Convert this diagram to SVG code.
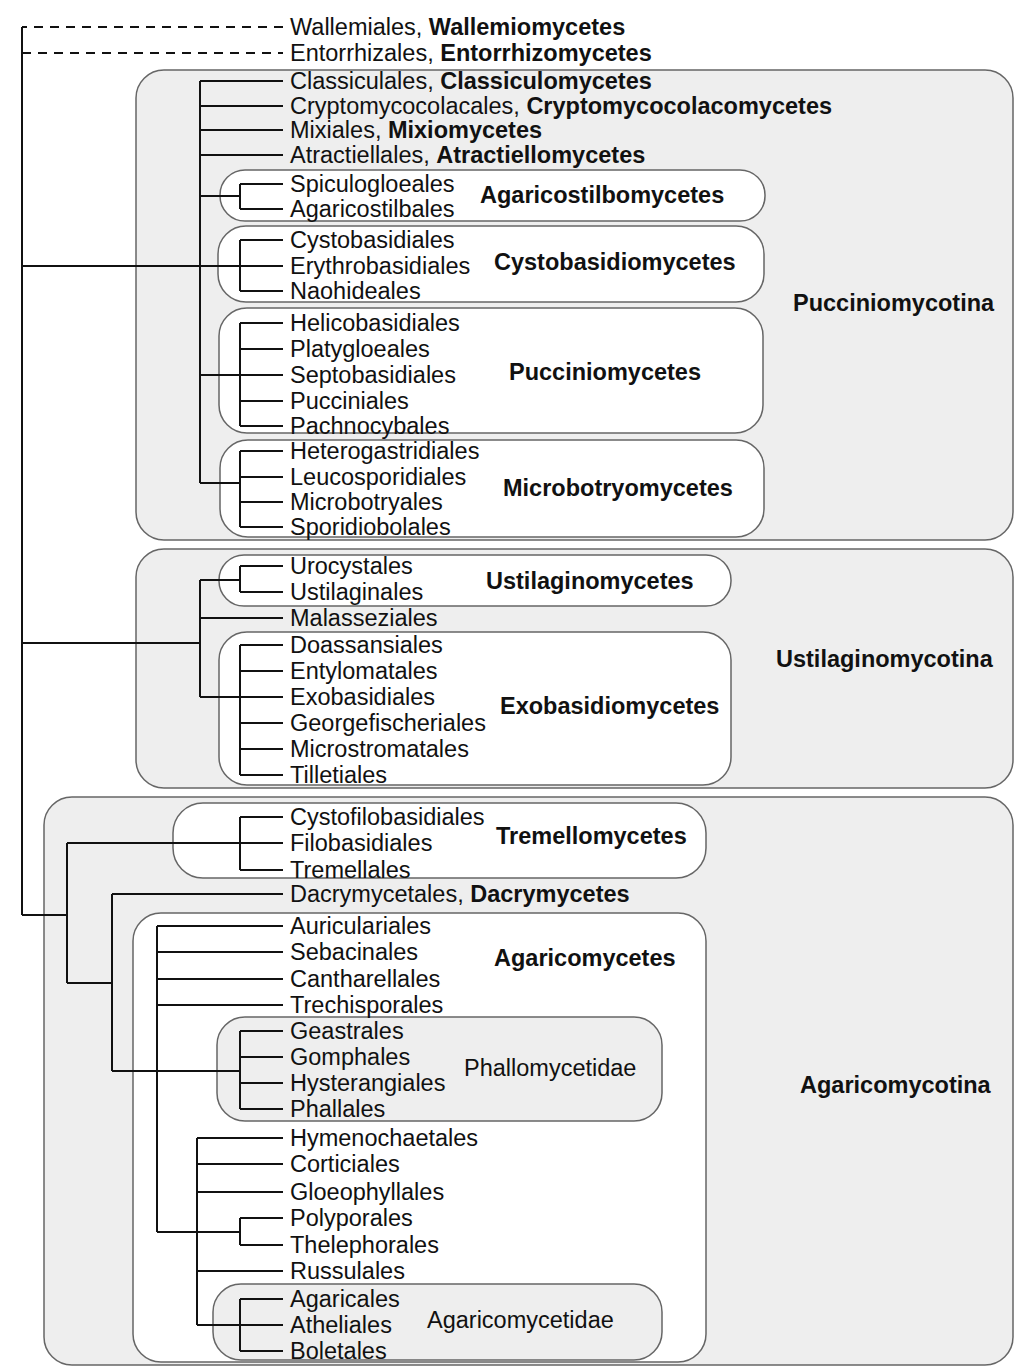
<svg xmlns="http://www.w3.org/2000/svg" width="1033" height="1369" viewBox="0 0 1033 1369">
<style>
text{font-family:"Liberation Sans",Arial,sans-serif;font-size:23.5px;fill:#111}
.b{font-weight:bold}
.g{fill:#eeeeee;stroke:#666;stroke-width:1.5}
.w{fill:#fff;stroke:#666;stroke-width:1.5}
#edges path{fill:none;stroke:#111;stroke-width:2}
</style>
<rect width="1033" height="1369" fill="#fff"/>
<g id="boxes">
<rect id="pucciniomycotina" class="g" x="136" y="70" width="877" height="470" rx="28"/>
<rect id="agaricostilbomycetes" class="w" x="220" y="170" width="545" height="51" rx="25"/>
<rect id="cystobasidiomycetes" class="w" x="218" y="226" width="546" height="76" rx="28"/>
<rect id="pucciniomycetes" class="w" x="219" y="308" width="544" height="125" rx="28"/>
<rect id="microbotryomycetes" class="w" x="220" y="440" width="544" height="97" rx="28"/>
<rect id="ustilaginomycotina" class="g" x="136" y="549" width="877" height="239" rx="28"/>
<rect id="ustilaginomycetes" class="w" x="219" y="555" width="512" height="51" rx="25"/>
<rect id="exobasidiomycetes" class="w" x="219" y="632" width="512" height="153" rx="28"/>
<rect id="agaricomycotina" class="g" x="44" y="797" width="969" height="568" rx="28"/>
<rect id="tremellomycetes" class="w" x="173" y="803" width="533" height="75" rx="30"/>
<rect id="agaricomycetes" class="w" x="133" y="913" width="573" height="449" rx="28"/>
<rect id="phallomycetidae" class="g" x="217" y="1017" width="445" height="104" rx="28"/>
<rect id="agaricomycetidae" class="g" x="213" y="1284" width="449" height="76" rx="28"/>
</g>
<g id="edges">
<path d="M283,27H22M22,53H283" stroke-dasharray="9,7"/>
<path d="M22,27V915"/>
<path d="M200,81V483M200,81H283M200,106H283M200,130H283M200,155H283"/>
<path d="M200,196H240M240,184V209M240,184H283M240,209H283"/>
<path d="M22,266H283M240,240V291M240,240H283M240,291H283"/>
<path d="M200,375H240M240,323V426M240,323H283M240,349H283M240,375H283M240,401H283M240,426H283"/>
<path d="M200,483H240M240,451V527M240,451H283M240,477H283M240,502H283M240,527H283"/>
<path d="M22,643H200M200,580V697M200,580H240M240,566V592M240,566H283M240,592H283M200,618H283"/>
<path d="M200,697H240M240,645V775M240,645H283M240,671H283M240,697H283M240,723H283M240,749H283M240,775H283"/>
<path d="M22,915H67M67,843V983M67,843H283M240,817V870M240,817H283M240,870H283"/>
<path d="M67,983H112M112,894V1071M112,894H283M112,1071H240"/>
<path d="M157,926V1232M157,926H283M157,952H283M157,979H283M157,1005H283"/>
<path d="M240,1031V1109M240,1031H283M240,1057H283M240,1083H283M240,1109H283"/>
<path d="M197,1138V1325M197,1138H283M197,1164H283M197,1192H283M197,1271H283"/>
<path d="M157,1232H240M240,1218V1245M240,1218H283M240,1245H283"/>
<path d="M197,1325H240M240,1299V1351M240,1299H283M240,1325H283M240,1351H283"/>
</g>
<g id="labels">
<text x="290" y="35">Wallemiales, <tspan class="b">Wallemiomycetes</tspan></text>
<text x="290" y="61">Entorrhizales, <tspan class="b">Entorrhizomycetes</tspan></text>
<text x="290" y="89">Classiculales, <tspan class="b">Classiculomycetes</tspan></text>
<text x="290" y="114">Cryptomycocolacales, <tspan class="b">Cryptomycocolacomycetes</tspan></text>
<text x="290" y="138">Mixiales, <tspan class="b">Mixiomycetes</tspan></text>
<text x="290" y="163">Atractiellales, <tspan class="b">Atractiellomycetes</tspan></text>
<text x="290" y="192">Spiculogloeales</text>
<text x="290" y="217">Agaricostilbales</text>
<text class="b" x="480" y="203">Agaricostilbomycetes</text>
<text x="290" y="248">Cystobasidiales</text>
<text x="290" y="274">Erythrobasidiales</text>
<text x="290" y="299">Naohideales</text>
<text class="b" x="494" y="270">Cystobasidiomycetes</text>
<text x="290" y="331">Helicobasidiales</text>
<text x="290" y="357">Platygloeales</text>
<text x="290" y="383">Septobasidiales</text>
<text x="290" y="409">Pucciniales</text>
<text x="290" y="434">Pachnocybales</text>
<text class="b" x="509" y="380">Pucciniomycetes</text>
<text x="290" y="459">Heterogastridiales</text>
<text x="290" y="485">Leucosporidiales</text>
<text x="290" y="510">Microbotryales</text>
<text x="290" y="535">Sporidiobolales</text>
<text class="b" x="503" y="496">Microbotryomycetes</text>
<text class="b" x="793" y="311">Pucciniomycotina</text>
<text x="290" y="574">Urocystales</text>
<text x="290" y="600">Ustilaginales</text>
<text class="b" x="486" y="589">Ustilaginomycetes</text>
<text x="290" y="626">Malasseziales</text>
<text x="290" y="653">Doassansiales</text>
<text x="290" y="679">Entylomatales</text>
<text x="290" y="705">Exobasidiales</text>
<text x="290" y="731">Georgefischeriales</text>
<text x="290" y="757">Microstromatales</text>
<text x="290" y="783">Tilletiales</text>
<text class="b" x="500" y="714">Exobasidiomycetes</text>
<text class="b" x="776" y="667">Ustilaginomycotina</text>
<text x="290" y="825">Cystofilobasidiales</text>
<text x="290" y="851">Filobasidiales</text>
<text x="290" y="878">Tremellales</text>
<text class="b" x="496" y="844">Tremellomycetes</text>
<text x="290" y="902">Dacrymycetales, <tspan class="b">Dacrymycetes</tspan></text>
<text x="290" y="934">Auriculariales</text>
<text x="290" y="960">Sebacinales</text>
<text x="290" y="987">Cantharellales</text>
<text x="290" y="1013">Trechisporales</text>
<text class="b" x="494" y="966">Agaricomycetes</text>
<text x="290" y="1039">Geastrales</text>
<text x="290" y="1065">Gomphales</text>
<text x="290" y="1091">Hysterangiales</text>
<text x="290" y="1117">Phallales</text>
<text x="464" y="1076">Phallomycetidae</text>
<text x="290" y="1146">Hymenochaetales</text>
<text x="290" y="1172">Corticiales</text>
<text x="290" y="1200">Gloeophyllales</text>
<text x="290" y="1226">Polyporales</text>
<text x="290" y="1253">Thelephorales</text>
<text x="290" y="1279">Russulales</text>
<text x="290" y="1307">Agaricales</text>
<text x="290" y="1333">Atheliales</text>
<text x="290" y="1359">Boletales</text>
<text x="427" y="1328">Agaricomycetidae</text>
<text class="b" x="800" y="1093">Agaricomycotina</text>
</g>
</svg>
